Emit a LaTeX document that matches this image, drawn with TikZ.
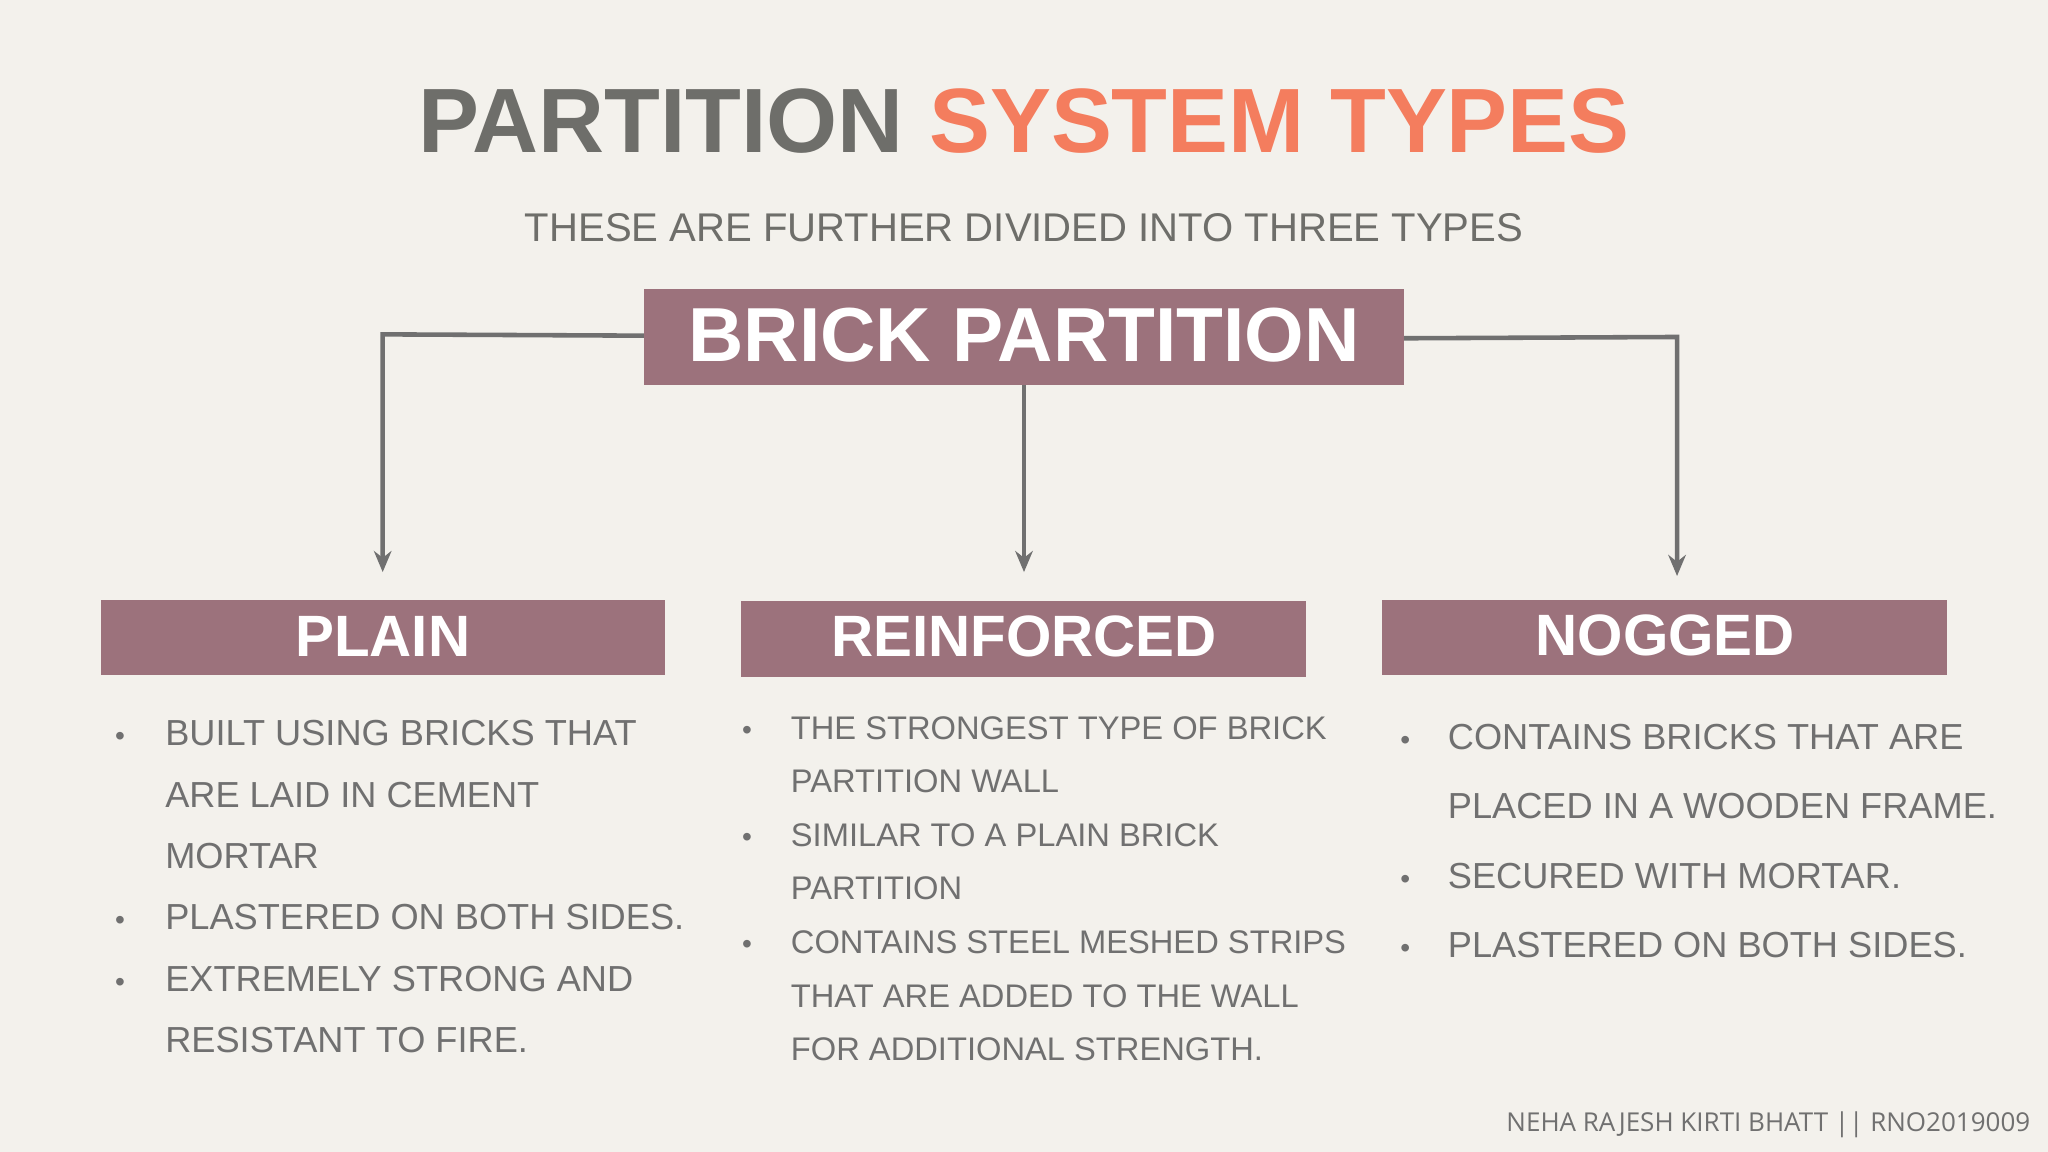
\documentclass[tikz,border=0pt]{standalone}
\usepackage{fontspec}
\setmainfont{Liberation Sans}
\newfontfamily\footfont{Open Sans}
\usetikzlibrary{arrows.meta}
\definecolor{bg}{HTML}{F3F1EC}
\definecolor{mauve}{HTML}{9C727C}
\definecolor{ttlgrey}{HTML}{6E6E6A}
\definecolor{ttlorange}{HTML}{F47D5E}
\definecolor{txt}{HTML}{707070}
\definecolor{ln}{HTML}{707070}
\tikzset{
  hdr/.style={fill=mauve, draw=none},
  hdrtxt/.style={text=white, font=\bfseries\fontsize{16.6}{19}\selectfont, anchor=base},
  conn/.style={draw=ln, line width=1.3pt, -{Stealth[length=6pt,width=5pt]}},
  pl/.style={text=txt, anchor=base west, inner sep=0pt, font=\fontsize{10.3}{12}\selectfont},
  rf/.style={text=txt, anchor=base west, inner sep=0pt, font=\fontsize{9.3}{11}\selectfont},
  bul/.style={text=txt, anchor=base, inner sep=0pt, font=\fontsize{8}{10}\selectfont},
}
\begin{document}
\begin{tikzpicture}[x=0.013061cm, y=-0.013061cm]
\fill[bg] (0,0) rectangle (1568,882);
\useasboundingbox (0,0) rectangle (1568,882);
\node[anchor=base, inner sep=0pt, font=\bfseries\fontsize{26}{30}\selectfont] (title) at (784,117)
  {\textcolor{ttlgrey}{PARTITION} \textcolor{ttlorange}{SYSTEM TYPES}};
\node[anchor=base, inner sep=0pt, text=ttlgrey, font=\fontsize{11.4}{13}\selectfont] (sub) at (784,185)
  {THESE ARE FURTHER DIVIDED INTO THREE TYPES};
% main box
\path[hdr] (493,221) rectangle (1075,295);
\node[inner sep=0pt, minimum width=582*0.013061cm, minimum height=74*0.013061cm] (brick) at (784,258) {};
\node[anchor=base, text=white, inner sep=0pt, font=\bfseries\fontsize{21.8}{25}\selectfont] (bricktxt) at (784,277) {BRICK PARTITION};
% sub boxes
\path[hdr] (77,459) rectangle (509,517);
\path[hdr] (567,460) rectangle (1000,518);
\path[hdr] (1058,459) rectangle (1491,517);
\node[hdrtxt] (plain) at (293,503) {PLAIN};
\node[hdrtxt] (reinf) at (784,503) {REINFORCED};
\node[hdrtxt] (nog) at (1275,502) {NOGGED};
\coordinate (pA) at (293,438);
\coordinate (rA) at (784,438);
\coordinate (nA) at (1284,441);
\coordinate (bl) at (493,257);
\coordinate (br) at (1075,259);
\coordinate (bb) at (784,295);
\draw[conn] (bl) -- (293,256) -- (pA);
\draw[conn] (bb) -- (rA);
\draw[conn] (br) -- (1284,258) -- (nA);
% plain
\foreach \y in {571,712,759} \node[bul] at (92,\y) {•};
\node[pl] at (126,571) {BUILT USING BRICKS THAT};
\node[pl] at (126,618) {ARE LAID IN CEMENT};
\node[pl] at (126,665) {MORTAR};
\node[pl] at (126,712) {PLASTERED ON BOTH SIDES.};
\node[pl] at (126,759) {EXTREMELY STRONG AND};
\node[pl] at (126,806) {RESISTANT TO FIRE.};
% reinforced
\foreach \y in {566,648,730} \node[bul] at (572,\y) {•};
\node[rf] at (605,566) {THE STRONGEST TYPE OF BRICK};
\node[rf] at (605,607) {PARTITION WALL};
\node[rf] at (605,648) {SIMILAR TO A PLAIN BRICK};
\node[rf] at (605,689) {PARTITION};
\node[rf] at (605,730) {CONTAINS STEEL MESHED STRIPS};
\node[rf] at (605,771) {THAT ARE ADDED TO THE WALL};
\node[rf] at (605,812) {FOR ADDITIONAL STRENGTH.};
% nogged
\foreach \y in {574,680,733} \node[bul] at (1076,\y) {•};
\node[pl] at (1108,574) {CONTAINS BRICKS THAT ARE};
\node[pl] at (1108,627) {PLACED IN A WOODEN FRAME.};
\node[pl] at (1108,680) {SECURED WITH MORTAR.};
\node[pl] at (1108,733) {PLASTERED ON BOTH SIDES.};
% footer
\node[anchor=base east, inner sep=0pt, text=txt, font=\footfont\fontsize{7.4}{9}\selectfont] (foot) at (1555,866)
  {NEHA RAJESH KIRTI BHATT || RNO2019009};
\end{tikzpicture}
\end{document}
